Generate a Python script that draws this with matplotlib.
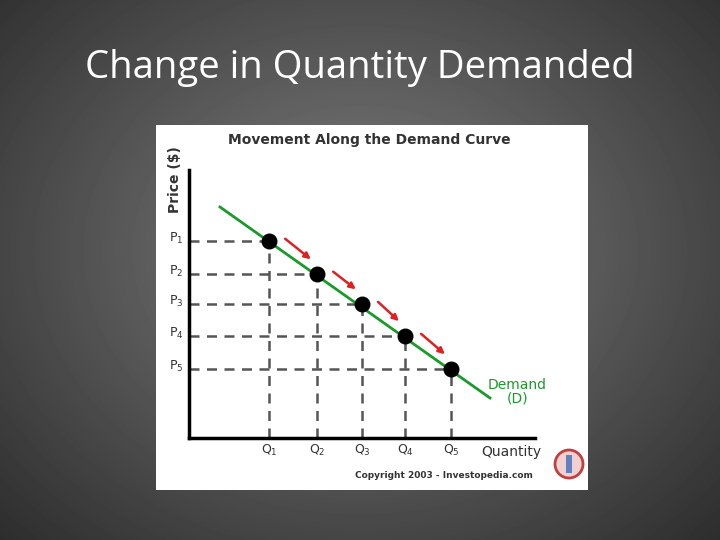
import numpy as np
import matplotlib
matplotlib.use("Agg")
import matplotlib.pyplot as plt
from matplotlib.patches import Rectangle, Circle, FancyArrowPatch

q_vals = [80, 128, 173, 216, 262]
p_vals = [197, 164, 134, 102, 69]
q_labels = ["Q1", "Q2", "Q3", "Q4", "Q5"]
p_labels = ["P1", "P2", "P3", "P4", "P5"]
demand_x = [31, 301]
demand_y = [231, 40]

fig = plt.figure(figsize=(7.2, 5.4), dpi=100)
bg = fig.add_axes([0, 0, 1, 1])
yy, xx = np.mgrid[0:540, 0:720]
r = np.sqrt(((xx - 360) / 520) ** 2 + ((yy - 250) / 420) ** 2)
img = np.clip(0.50 - 0.33 * r, 0.15, 0.55)
bg.imshow(img, cmap="gray", vmin=0, vmax=1, aspect="auto", extent=[0, 1, 0, 1])
bg.set_xlim(0, 1); bg.set_ylim(0, 1); bg.axis("off")

fig.text(0.5, 1 - 68 / 540, "Change in Quantity Demanded", color="white",
         ha="center", va="center", fontsize=27.5, family="Open Sans")
fig.patches.append(Rectangle((156 / 720, 50 / 540), 432 / 720, 365 / 540,
                             transform=fig.transFigure, facecolor="white", zorder=1))

ax = fig.add_axes([189 / 720, 102 / 540, 346 / 720, 268 / 540], zorder=2)
ax.set_facecolor("none")
ax.set_xlim(0, 346); ax.set_ylim(0, 268)
for s in ["top", "right"]:
    ax.spines[s].set_visible(False)
for s in ["left", "bottom"]:
    ax.spines[s].set_linewidth(2.5)
ax.set_xticks([]); ax.set_yticks([])

for q, p in zip(q_vals, p_vals):
    ax.plot([0, q], [p, p], ls=(0, (4, 3)), color="#555555", lw=1.8, zorder=1)
    ax.plot([q, q], [0, p], ls=(0, (4, 3)), color="#555555", lw=1.8, zorder=1)
ax.plot(demand_x, demand_y, color="#1a9a2a", lw=2, zorder=2)
ax.scatter(q_vals, p_vals, s=110, color="black", zorder=3)
for i in range(4):
    x0, y0 = q_vals[i] + 14, p_vals[i] + 4
    x1, y1 = q_vals[i + 1] - 4, p_vals[i + 1] + 13
    ax.add_patch(FancyArrowPatch((x0, y0), (x1, y1), arrowstyle="-|>",
                                 mutation_scale=9, color="#e02020", lw=1.8, zorder=4))
for q, lab in zip(q_vals, q_labels):
    ax.text(q, -12, lab[0] + "$_{" + lab[1] + "}$", ha="center", va="center", fontsize=9, color="#333")
for p, lab in zip(p_vals, p_labels):
    ax.text(-13, p + 3, lab[0] + "$_{" + lab[1] + "}$", ha="center", va="center", fontsize=9, color="#333")
ax.text(292, -14, "Quantity", ha="left", va="center", fontsize=10, color="#333")
ax.text(299, 46, "Demand\n(D)", ha="left", va="center", fontsize=10, color="#1a9a2a",
        linespacing=1.0, multialignment="center")
ax.text(-14, 258, "Price ($)", rotation=90, ha="center", va="center", fontsize=10,
        fontweight="bold", color="#333")
ax.text(39, 298, "Movement Along the Demand Curve", ha="left", va="center",
        fontsize=10, fontweight="bold", color="#333", clip_on=False)
ax.text(166, -37, "Copyright 2003 - Investopedia.com", ha="left", va="center",
        fontsize=6.5, fontweight="bold", color="#333", clip_on=False)
ax.add_patch(Circle((380, -26), 14, transform=ax.transData, facecolor="#f0d0d0",
                    edgecolor="#c04040", lw=2, clip_on=False))
ax.add_patch(Rectangle((377, -35), 6, 18, facecolor="#6080c0", clip_on=False))

fig.savefig("out.png", dpi=100)
